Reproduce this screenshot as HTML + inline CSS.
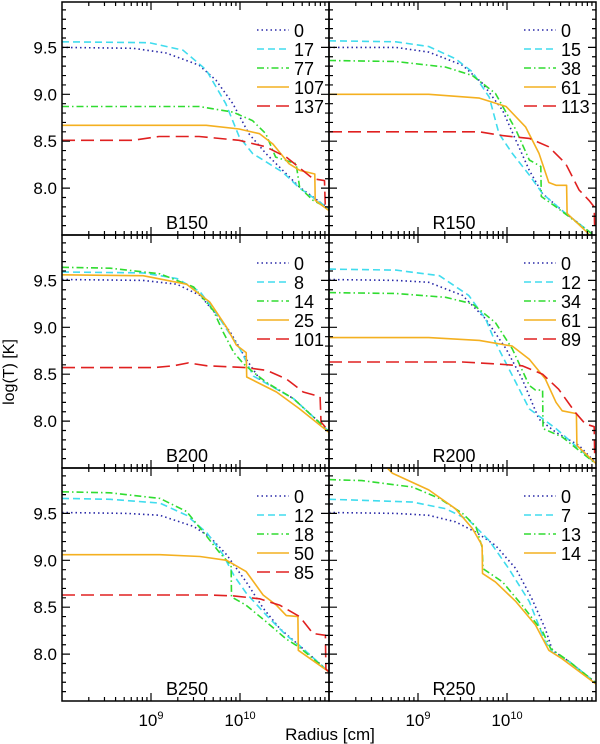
<!DOCTYPE html>
<html><head><meta charset="utf-8"><style>
body{margin:0;background:#fff}
svg{display:block;font-family:"Liberation Sans",sans-serif}
</style></head><body>
<svg id="chart" width="600" height="744" viewBox="0 0 600 744" xmlns="http://www.w3.org/2000/svg">
<text x="0" y="0" transform="translate(14,372) rotate(-90)" text-anchor="middle" font-size="16">log(T) [K]</text>
<text x="330" y="740" text-anchor="middle" font-size="17">Radius [cm]</text>
</svg>
<script>
const panelNames=["B150","R150","B200","R200","B250","R250"];
const B150_labels=["0","17","77","107","137"];
const B150_0=[[8,9.5],[8.8,9.49],[9.17,9.44],[9.54,9.31],[9.73,9.15],[9.92,8.9],[10.1,8.58],[10.29,8.37],[10.48,8.19],[10.67,8.01],[11,7.78]];
const B150_1=[[8,9.56],[8.98,9.55],[9.36,9.47],[9.62,9.26],[9.84,8.9],[9.99,8.55],[10.14,8.37],[10.48,8.17],[10.67,8.0],[11,7.78]];
const B150_2=[[8,8.87],[9.54,8.87],[9.92,8.81],[10.14,8.72],[10.29,8.58],[10.4,8.33],[10.63,8.26],[10.67,8.01],[10.7,7.98],[10.82,7.87],[11,7.78]];
const B150_3=[[8,8.67],[9.62,8.67],[9.99,8.63],[10.22,8.58],[10.37,8.47],[10.55,8.26],[10.67,8.19],[10.84,8.15],[10.845,7.87],[11,7.76]];
const B150_4=[[8,8.51],[8.8,8.51],[9.09,8.55],[9.54,8.55],[9.99,8.51],[10.29,8.44],[10.52,8.33],[10.82,8.1],[10.95,8.08],[10.96,7.76]];
const R150_labels=["0","15","38","61","113"];
const R150_0=[[8,9.5],[8.75,9.5],[9.12,9.45],[9.5,9.31],[9.72,9.12],[9.95,8.83],[10.1,8.51],[10.25,8.19],[10.4,7.94],[10.62,7.76],[10.96,7.51]];
const R150_1=[[8,9.57],[8.75,9.56],[9.12,9.51],[9.42,9.38],[9.61,9.24],[9.8,8.97],[9.91,8.58],[10.06,8.37],[10.25,8.14],[10.4,7.94],[10.62,7.76],[10.96,7.51]];
const R150_2=[[8,9.36],[8.75,9.35],[9.31,9.29],[9.61,9.2],[9.87,9.01],[10.1,8.62],[10.25,8.3],[10.38,8.23],[10.385,7.91],[10.55,7.8],[10.96,7.51]];
const R150_3=[[8,9.0],[9.12,9.0],[9.69,8.96],[9.99,8.87],[10.21,8.65],[10.36,8.37],[10.47,8.06],[10.55,8.03],[10.67,8.03],[10.675,7.73],[10.92,7.51]];
const R150_4=[[8,8.6],[9.69,8.6],[9.95,8.56],[10.25,8.53],[10.47,8.44],[10.66,8.26],[10.81,7.98],[10.92,7.87],[10.98,7.8],[10.985,7.55]];
const B200_labels=["0","8","14","25","101"];
const B200_0=[[8,9.51],[8.91,9.5],[9.29,9.46],[9.55,9.34],[9.74,9.13],[9.89,8.95],[10.07,8.66],[10.22,8.45],[10.6,8.24],[10.97,7.92],[11,7.89]];
const B200_1=[[8,9.59],[8.91,9.58],[9.29,9.52],[9.55,9.38],[9.74,9.14],[9.85,8.98],[10.0,8.77],[10.15,8.48],[10.6,8.24],[11,7.89]];
const B200_2=[[8,9.64],[8.54,9.63],[9.1,9.57],[9.48,9.43],[9.7,9.18],[9.81,8.95],[9.93,8.73],[10.04,8.61],[10.15,8.52],[10.3,8.41],[10.6,8.24],[11,7.89]];
const B200_3=[[8,9.56],[8.91,9.55],[9.4,9.46],[9.66,9.27],[9.85,9.0],[9.96,8.81],[10.07,8.73],[10.075,8.47],[10.41,8.31],[10.67,8.13],[11,7.88]];
const B200_4=[[8,8.57],[9.03,8.57],[9.25,8.59],[9.42,8.62],[9.63,8.59],[10.07,8.57],[10.3,8.54],[10.52,8.45],[10.71,8.31],[10.9,8.26],[10.91,7.99],[11,7.89]];
const R200_labels=["0","12","34","61","89"];
const R200_0=[[8,9.51],[8.75,9.5],[9.12,9.48],[9.5,9.34],[9.76,9.09],[9.99,8.77],[10.17,8.45],[10.36,8.02],[10.55,7.88],[10.81,7.74],[11.03,7.52]];
const R200_1=[[8,9.62],[8.75,9.61],[9.24,9.55],[9.57,9.34],[9.76,9.09],[9.87,8.84],[10.02,8.56],[10.25,8.13],[10.55,7.92],[11.03,7.52]];
const R200_2=[[8,9.37],[8.75,9.36],[9.31,9.32],[9.61,9.25],[9.87,9.05],[10.06,8.77],[10.25,8.38],[10.32,8.33],[10.4,8.33],[10.405,7.92],[10.62,7.83],[11.03,7.52]];
const R200_3=[[8,8.89],[9.12,8.89],[9.69,8.86],[10.06,8.8],[10.25,8.66],[10.43,8.45],[10.55,8.2],[10.62,8.11],[10.78,8.08],[10.785,7.74],[11.03,7.52]];
const R200_4=[[8,8.63],[9.5,8.63],[9.87,8.61],[10.17,8.59],[10.4,8.5],[10.58,8.34],[10.77,8.09],[10.88,7.97],[10.98,7.94],[10.985,7.63]];
const B250_labels=["0","12","18","50","85"];
const B250_0=[[8,9.51],[8.73,9.5],[9.1,9.48],[9.48,9.36],[9.66,9.25],[9.85,9.06],[10.07,8.77],[10.26,8.49],[10.45,8.27],[10.67,8.09],[11,7.81]];
const B250_1=[[8,9.66],[8.54,9.65],[9.1,9.61],[9.4,9.48],[9.63,9.29],[9.81,9.06],[9.93,8.84],[10.07,8.65],[10.3,8.41],[10.52,8.2],[10.67,8.09],[11,7.81]];
const B250_2=[[8,9.73],[8.54,9.72],[9.1,9.66],[9.4,9.52],[9.59,9.3],[9.78,9.07],[9.9,8.95],[9.905,8.61],[10.07,8.52],[10.3,8.34],[10.52,8.16],[10.67,8.07],[11,7.81]];
const B250_3=[[8,9.06],[9.1,9.06],[9.55,9.04],[9.85,9.0],[10.07,8.88],[10.26,8.63],[10.41,8.52],[10.52,8.41],[10.65,8.4],[10.655,8.04],[11,7.81]];
const B250_4=[[8,8.63],[9.66,8.63],[9.93,8.62],[10.22,8.59],[10.45,8.52],[10.67,8.4],[10.82,8.22],[10.96,8.2],[10.965,7.84],[11,7.81]];
const R250_labels=["0","7","13","14"];
const R250_0=[[8,9.51],[8.75,9.5],[9.12,9.48],[9.42,9.41],[9.65,9.3],[9.87,9.16],[10.1,8.91],[10.28,8.59],[10.43,8.27],[10.51,8.04],[10.7,7.92],[11.03,7.67]];
const R250_1=[[8,9.65],[8.37,9.64],[8.94,9.62],[9.31,9.55],[9.57,9.43],[9.8,9.21],[10.02,8.91],[10.25,8.56],[10.43,8.13],[10.51,8.02],[10.7,7.92],[11.03,7.67]];
const R250_2=[[8,9.86],[8.37,9.85],[8.94,9.78],[9.24,9.66],[9.5,9.5],[9.65,9.36],[9.72,9.14],[9.73,8.91],[9.95,8.77],[10.17,8.52],[10.4,8.24],[10.49,8.06],[10.7,7.92],[11.03,7.67]];
const R250_3=[[8.66,9.98],[8.71,9.93],[9.12,9.75],[9.42,9.55],[9.61,9.34],[9.72,9.16],[9.725,8.86],[9.87,8.77],[10.1,8.56],[10.32,8.31],[10.47,8.04],[10.62,7.95],[11.03,7.66]];

const panelData=[
 [B150_labels,[B150_0,B150_1,B150_2,B150_3,B150_4]],
 [R150_labels,[R150_0,R150_1,R150_2,R150_3,R150_4]],
 [B200_labels,[B200_0,B200_1,B200_2,B200_3,B200_4]],
 [R200_labels,[R200_0,R200_1,R200_2,R200_3,R200_4]],
 [B250_labels,[B250_0,B250_1,B250_2,B250_3,B250_4]],
 [R250_labels,[R250_0,R250_1,R250_2,R250_3]]
];
const seriesStyles=[
 {c:"#2a2aa8",d:"1.5,3"},{c:"#40dcee",d:"7,4"},{c:"#30dc30",d:"7,3,1.5,3"},{c:"#f4b020",d:""},{c:"#e02020",d:"13,6"}
];
const NS="http://www.w3.org/2000/svg";
const svg=document.getElementById('chart');
const W=267,H=233,X0=[62,329],Y0=[2,235,468];
const XMIN=8,XMAX=11,YMIN=7.5,YMAX=9.984;
function mk(t,a){const e=document.createElementNS(NS,t);for(const k in a)e.setAttribute(k,a[k]);return e;}
const defs=mk('defs',{});svg.appendChild(defs);
panelData.forEach((pd,i)=>{
 const col=i%2,row=Math.floor(i/2);
 const px=X0[col],py=Y0[row];
 const sx=v=>px+(v-XMIN)/(XMAX-XMIN)*W;
 const sy=v=>py+(YMAX-v)/(YMAX-YMIN)*H;
 const g=mk('g',{});
 
 
 svg.appendChild(g);
 const cp=mk('clipPath',{id:'cp'+i});cp.appendChild(mk('rect',{x:px,y:py,width:W,height:H}));defs.appendChild(cp);
 const lg=mk('g',{'clip-path':'url(#cp'+i+')'});g.appendChild(lg);
 pd[1].forEach((s,j)=>{
  const st=seriesStyles[j];
  const p=mk('polyline',{points:s.map(q=>sx(q[0]).toFixed(1)+','+sy(q[1]).toFixed(1)).join(' '),fill:'none',stroke:st.c,'stroke-width':1.6,'stroke-dasharray':st.d,'stroke-linejoin':'round'});
  
  
  lg.appendChild(p);
 });
 let t='';
 for(let d=8;d<11;d++)for(let m=1;m<10;m++){const v=d+Math.log10(m);if(v<=XMIN||v>=XMAX)continue;const x=sx(v);const L=m===1?8:4;t+=`M${x},${py+H}v${-L}M${x},${py}v${L}`;}
 for(let k=76;k<=99;k++){const v=k/10;const y=sy(v);if(y<=py||y>=py+H)continue;const L=(k%5===0)?8:4;t+=`M${px},${y}h${L}M${px+W},${y}h${-L}`;}
 const tk=mk('path',{d:t,stroke:'#000','stroke-width':1.2,fill:'none'});
 
 
 g.appendChild(tk);
 const fr=mk('rect',{x:px,y:py,width:W,height:H,fill:'none',stroke:'#000','stroke-width':1.5});
 
 
 g.appendChild(fr);
 const nm=mk('text',{x:px+125,y:py+227,'text-anchor':'middle','font-size':18});nm.textContent=panelNames[i];
 
 
 g.appendChild(nm);
 pd[0].forEach((lab,j)=>{
  const st=seriesStyles[j];const y=py+28+j*19;
  const ln=mk('line',{x1:px+195,x2:px+227,y1:y,y2:y,stroke:st.c,'stroke-width':1.6,'stroke-dasharray':st.d});
  
  
  g.appendChild(ln);
  const tx=mk('text',{x:px+232,y:y+7,'font-size':18});tx.textContent=lab;
  
  
  g.appendChild(tx);
 });
 if(col===0){
  [9.5,9.0,8.5,8.0].forEach(v=>{const tx=mk('text',{x:57,y:sy(v)+6,'text-anchor':'end','font-size':17});tx.textContent=v.toFixed(1);
   
   
   svg.appendChild(tx);});
 }
 if(row===2){
  [9,10].forEach(e=>{const tx=mk('text',{x:sx(e),y:726,'text-anchor':'middle','font-size':17});
   tx.appendChild(document.createTextNode('10'));
   const ts=mk('tspan',{dy:-7,'font-size':11});ts.textContent=String(e);tx.appendChild(ts);
   
   
   svg.appendChild(tx);});
 }
});
</script>
</body></html>
